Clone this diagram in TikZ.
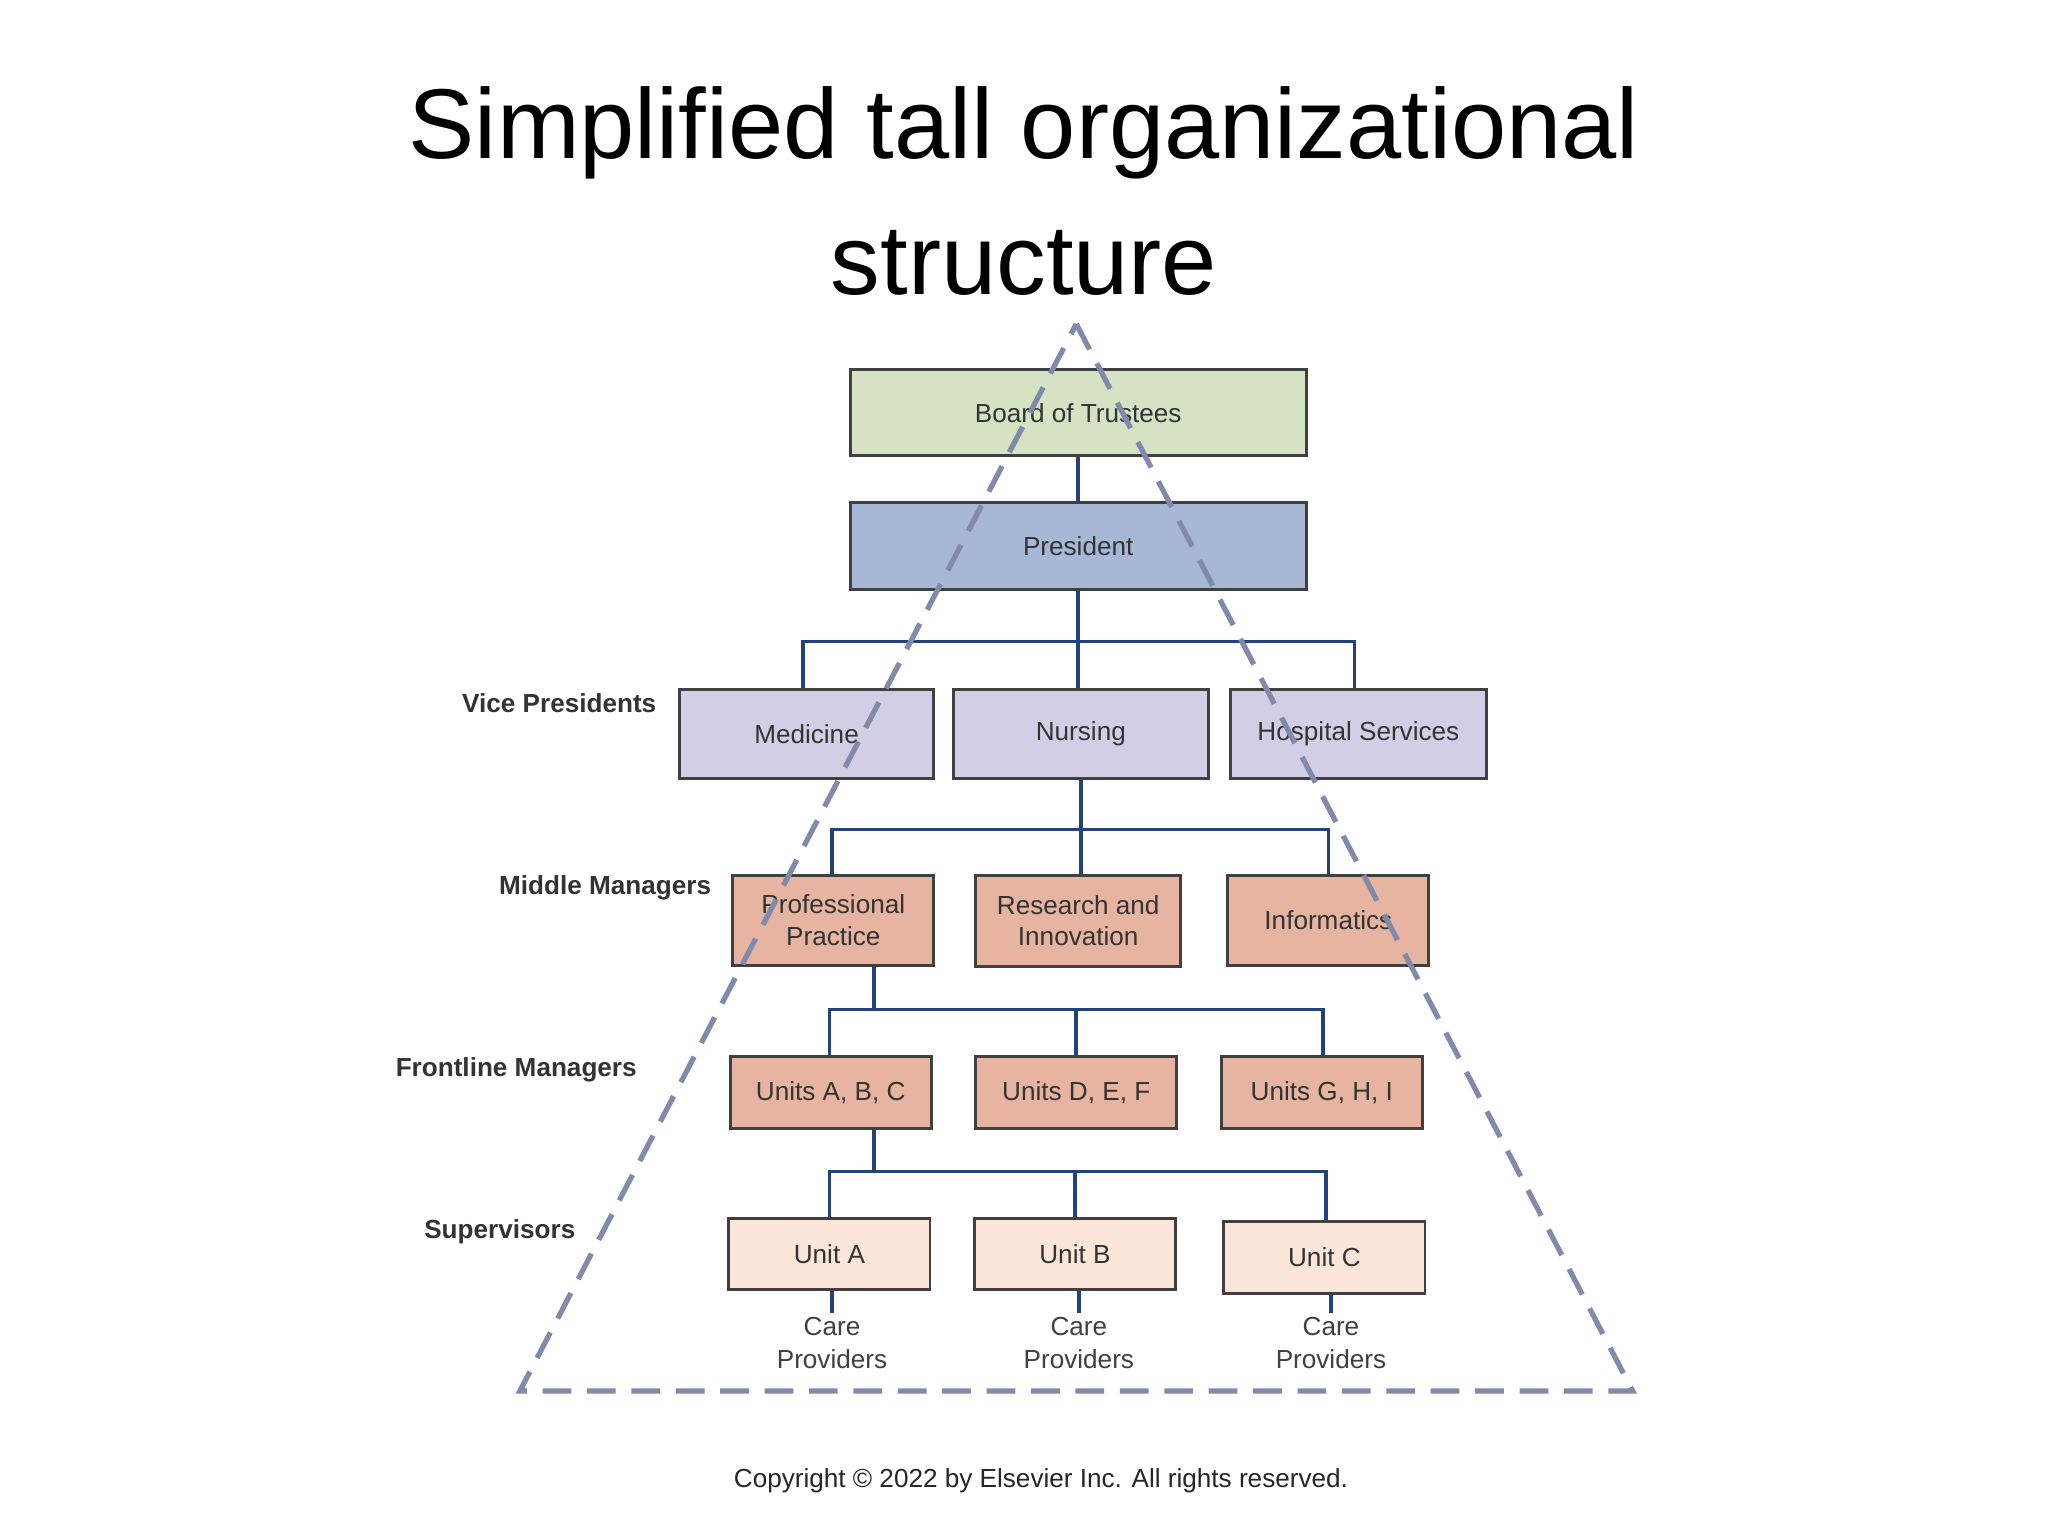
\documentclass[tikz,border=0pt]{standalone}
\usepackage{fontspec}
\setmainfont{Liberation Sans}
\begin{document}
\begin{tikzpicture}[x=1pt,y=-1pt,
  bx/.style={draw=black!75,line width=2.2pt,inner sep=0pt,align=center,font=\fontsize{20}{24}\selectfont,text=black!80},
  conn/.style={draw={rgb,255:red,35;green,65;blue,125},line width=2.8pt},
  lvl/.style={anchor=east,font=\bfseries\fontsize{20}{24}\selectfont,text=black!80},
  cp/.style={align=center,font=\fontsize{20}{25}\selectfont,text=black!75}]
\definecolor{cgreen}{RGB}{214,226,196}
\definecolor{cblue}{RGB}{166,184,214}
\definecolor{clav}{RGB}{210,206,230}
\definecolor{csal}{RGB}{230,180,160}
\definecolor{cpale}{RGB}{251,230,217}
\definecolor{ctri}{RGB}{128,138,170}
\useasboundingbox (0,0) rectangle (1568,1176);
\fill[white] (0,0) rectangle (1568,1176);
\node[font=\fontsize{76}{104}\selectfont,align=center] (title) at (784,146) {Simplified tall organizational\\structure};
% boxes
\node[bx,fill=cgreen,minimum width=349pt,minimum height=66pt] (bot) at (825.5,316) {Board of Trustees};
\node[bx,fill=cblue,minimum width=349pt,minimum height=66pt] (pres) at (825.5,418) {President};
\node[bx,fill=clav,minimum width=195pt,minimum height=68pt] (med) at (617.5,562) {Medicine};
\node[bx,fill=clav,minimum width=195pt,minimum height=68pt] (nur) at (827.5,562) {Nursing};
\node[bx,fill=clav,minimum width=196pt,minimum height=68pt] (hos) at (1040,562) {Hospital Services};
\node[bx,fill=csal,minimum width=154pt,minimum height=69pt] (pp) at (638,704.5) {Professional\\Practice};
\node[bx,fill=csal,minimum width=157pt,minimum height=70pt] (ri) at (825.5,705) {Research and\\Innovation};
\node[bx,fill=csal,minimum width=154pt,minimum height=69pt] (inf) at (1017,704.5) {Informatics};
\node[bx,fill=csal,minimum width=154pt,minimum height=55pt] (uabc) at (636,836.5) {Units A, B, C};
\node[bx,fill=csal,minimum width=154pt,minimum height=55pt] (udef) at (824,836.5) {Units D, E, F};
\node[bx,fill=csal,minimum width=154pt,minimum height=55pt] (ughi) at (1012,836.5) {Units G, H, I};
\node[bx,fill=cpale,minimum width=154pt,minimum height=54pt] (ua) at (635,960) {Unit A};
\node[bx,fill=cpale,minimum width=154pt,minimum height=54pt] (ub) at (823,960) {Unit B};
\node[bx,fill=cpale,minimum width=154pt,minimum height=55pt] (uc) at (1014,962.5) {Unit C};
\node[cp] (ca) at (637,1028) {Care\\Providers};
\node[cp] (cb) at (826,1028) {Care\\Providers};
\node[cp] (cc) at (1019,1028) {Care\\Providers};
% connectors
\draw[conn] (bot.south) -- (pres.north);
\draw[conn] (pres.south) -- ++(0,39) coordinate (j1);
\draw[conn] (med.north -| 615,0) |- (j1) -| (hos.north -| 1037,0);
\draw[conn] (j1) -- (nur.north -| j1);
\draw[conn] (nur.south) -- ++(0,38) coordinate (j2);
\draw[conn] (pp.north -| 637,0) |- (j2) -| (inf.north);
\draw[conn] (j2) -- (ri.north -| j2);
\draw[conn] (pp.south -| 669,0) -- (669,773) coordinate (j3);
\draw[conn] (uabc.north -| 635,0) |- (j3) -| (ughi.north -| 1013,0);
\draw[conn] (j3) -| (udef.north);
\draw[conn] (uabc.south -| 669,0) -- (669,897) coordinate (j4);
\draw[conn] (ua.north) |- (j4) -| (uc.north -| 1015,0);
\draw[conn] (j4) -| (ub.north);
\draw[conn] (ua.south -| ca) -- (ca.north);
\draw[conn] (ub.south -| cb) -- (cb.north);
\draw[conn] (uc.south -| cc) -- (cc.north);
% triangle
\draw[ctri,line width=4pt,dash pattern=on 22pt off 12pt] (824,248) -- (1250,1065) -- (398,1065) -- cycle;
% level labels
\node[lvl] (l1) at (506,538) {Vice Presidents};
\node[lvl] (l2) at (548,680) {Middle Managers};
\node[lvl] (l3) at (491,819) {Frontline Managers};
\node[lvl] (l4) at (444,943) {Supervisors};
\node[font=\fontsize{20}{24}\selectfont,text=black!85] (copy) at (797,1134) {Copyright © 2022 by Elsevier Inc. All rights reserved.};
\end{tikzpicture}
\end{document}
